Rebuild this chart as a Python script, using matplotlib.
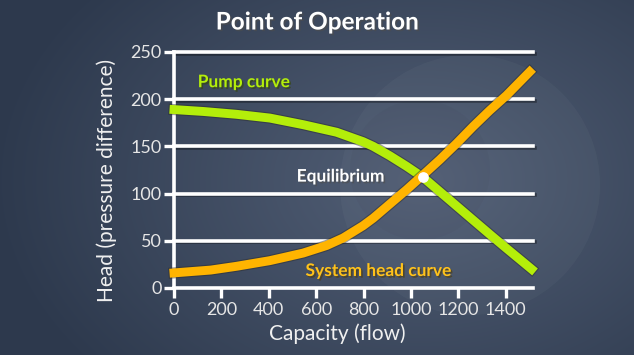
import numpy as np
import matplotlib
matplotlib.use("Agg")
import matplotlib.pyplot as plt
import matplotlib.patheffects as pe
from matplotlib.patches import Circle

# ---- data ----
pump_x = [0, 124, 264, 405, 545, 686, 798, 841, 911, 981, 1052, 1122, 1192, 1262, 1332, 1403, 1509]
pump_y = [189, 187, 184, 180, 173, 165, 155, 150, 140, 129, 117, 102, 87, 72, 57, 42, 20]
sys_x = [0, 155, 264, 405, 545, 644, 714, 798, 841, 911, 981, 1052, 1122, 1192, 1262, 1332, 1403, 1501]
sys_y = [16, 19, 23, 29, 37, 45, 53, 66, 74, 89, 104, 120, 136, 153, 171, 188, 204, 229]
eq_x, eq_y = 1049, 118
x_ticks = [0, 200, 400, 600, 800, 1000, 1200, 1400]
y_ticks = [0, 50, 100, 150, 200, 250]

plt.rcParams['font.family'] = ['Lato', 'DejaVu Sans']

W, H = 634, 355
fig = plt.figure(figsize=(W / 100, H / 100), dpi=100)

# background gradient
bg = fig.add_axes([0, 0, 1, 1], zorder=-10)
yy, xx = np.mgrid[0:H, 0:W]
d = np.sqrt(((xx - 420) / 430.0) ** 2 + ((yy - 180) / 300.0) ** 2)
d = np.clip(d, 0, 1)
c_in = np.array([0x52, 0x5f, 0x76]) / 255
c_out = np.array([0x2d, 0x39, 0x4d]) / 255
img = c_in[None, None, :] * (1 - d[..., None]) + c_out[None, None, :] * d[..., None]
bg.imshow(img, extent=[0, W, H, 0], aspect='auto')
bg.add_patch(Circle((470, 185), 130, facecolor='white', alpha=0.03, edgecolor='none'))
bg.add_patch(Circle((420, 170), 70, facecolor='black', alpha=0.025, edgecolor='none'))
bg.set_xlim(0, W); bg.set_ylim(H, 0)
bg.axis('off')

ax = fig.add_axes([174 / W, 1 - 288 / H, (533 - 174) / W, (288 - 52) / H])
ax.set_facecolor('none')
ax.set_xlim(0, 1515)
ax.set_ylim(0, 250)

shadow = [pe.SimpleLineShadow(offset=(1.2, -1.2), shadow_color='black', alpha=0.35), pe.Normal()]
for yv in y_ticks[1:]:
    ax.axhline(yv, color='white', lw=2.6, zorder=1, clip_on=False, path_effects=shadow)

for s in ['top', 'right']:
    ax.spines[s].set_visible(False)
for s in ['left', 'bottom']:
    ax.spines[s].set_color('white')
    ax.spines[s].set_linewidth(2.6)
ax.tick_params(colors='white', width=2.4, length=7, labelsize=13, labelcolor='#e6e6e6')
ax.set_xticks(x_ticks)
ax.set_yticks(y_ticks)
ax.tick_params(axis='x', pad=3)
ax.tick_params(axis='y', pad=2)

lshadow = [pe.Stroke(linewidth=8.0, foreground='#2a2a2a', alpha=0.45), pe.Normal()]
ax.plot(pump_x, pump_y, color='#b4ee0a', lw=6.4, solid_capstyle='projecting',
        solid_joinstyle='round', zorder=3, clip_on=False, path_effects=lshadow)
ax.plot(sys_x, sys_y, color='#ffb400', lw=6.4, solid_capstyle='projecting',
        solid_joinstyle='round', zorder=4, clip_on=False, path_effects=lshadow)
ax.scatter([eq_x], [eq_y], s=45, color='white', zorder=6, clip_on=False)

tpe = [pe.SimplePatchShadow(offset=(1.2, -1.2), alpha=0.6), pe.Normal()]
ax.text(100, 218, 'Pump curve', color='#b4ee0a', fontsize=12.5, fontweight='bold',
        va='center', ha='left', path_effects=tpe)
ax.text(890, 118, 'Equilibrium', color='white', fontsize=12.5, fontweight='bold',
        va='center', ha='right', path_effects=tpe)
ax.text(555, 18, 'System head curve', color='#ffc21a', fontsize=12.5, fontweight='bold',
        va='center', ha='left', path_effects=tpe)

fig.text(317 / W, 1 - 22 / H, 'Point of Operation', color='white', fontsize=17.5,
         fontweight='bold', ha='center', va='center', path_effects=tpe)
fig.text(337 / W, 1 - 334 / H, 'Capacity (flow)', color='#f0f0f0', fontsize=15,
         ha='center', va='center')
fig.text(107 / W, 1 - 180 / H, 'Head (pressure difference)', color='#f0f0f0', fontsize=15,
         ha='center', va='center', rotation=90)

fig.savefig('out.png', dpi=100)
